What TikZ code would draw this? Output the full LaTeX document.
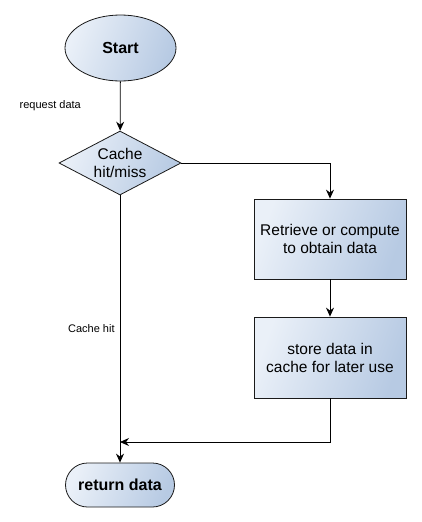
\documentclass[tikz,border=0pt]{standalone}
\usepackage{fontspec}
\setmainfont{Liberation Sans}
\usetikzlibrary{shapes.geometric,arrows.meta}
\definecolor{cLight}{HTML}{EAF0F8}
\definecolor{cDark}{HTML}{B7CAE3}
\definecolor{cLine}{HTML}{1A1A1A}
\tikzset{
  fillgrad/.style={draw=cLine,line width=0.8pt,left color=cLight,right color=cDark,shading angle=70,inner sep=0pt,align=center},
  startshape/.style={fillgrad,ellipse,minimum width=111pt,minimum height=66pt,font=\fontsize{16}{19}\selectfont\bfseries},
  decshape/.style={fillgrad,diamond,minimum width=122pt,minimum height=64pt},
  dectext/.style={font=\fontsize{15.5}{18}\selectfont,align=center,inner sep=0pt},
  procbox/.style={fillgrad,rectangle,minimum width=152pt,minimum height=80pt,font=\fontsize{15.5}{18}\selectfont},
  endshape/.style={fillgrad,rectangle,rounded corners=22pt,minimum width=109pt,minimum height=44pt,font=\fontsize{16}{19}\selectfont\bfseries},
  conn/.style={draw=black,line width=0.8pt,-{Stealth[length=9pt,width=8pt,inset=3pt]}},
  lbl/.style={font=\fontsize{11}{13}\selectfont,inner sep=0pt}
}
\begin{document}
\begin{tikzpicture}[x=1pt,y=-1pt]
\useasboundingbox (0,0) rectangle (422,522);
\node[startshape] (start) at (120.5,48) {Start};
\node[decshape,label={[dectext]center:Cache\\hit/miss}] (dec) at (120,163) {};
\node[procbox] (r1) at (330,239) {Retrieve or compute\\to obtain data};
\node[procbox,minimum height=81pt] (r2) at (330,357.5) {store data in\\cache for later use};
\node[endshape] (ret) at (120,485) {return data};
\coordinate (join) at (120,442);
\draw[conn] (start) -- node[lbl,midway,left,xshift=-39pt] {request data} (dec);
\draw[conn] (dec.east) -| (r1.north);
\draw[conn] (r1) -- (r2);
\draw[conn] (dec.south) -- node[lbl,midway,left,xshift=-5pt] {Cache hit} (ret.north);
\draw[conn] (r2.south) |- (join);
\end{tikzpicture}
\end{document}
